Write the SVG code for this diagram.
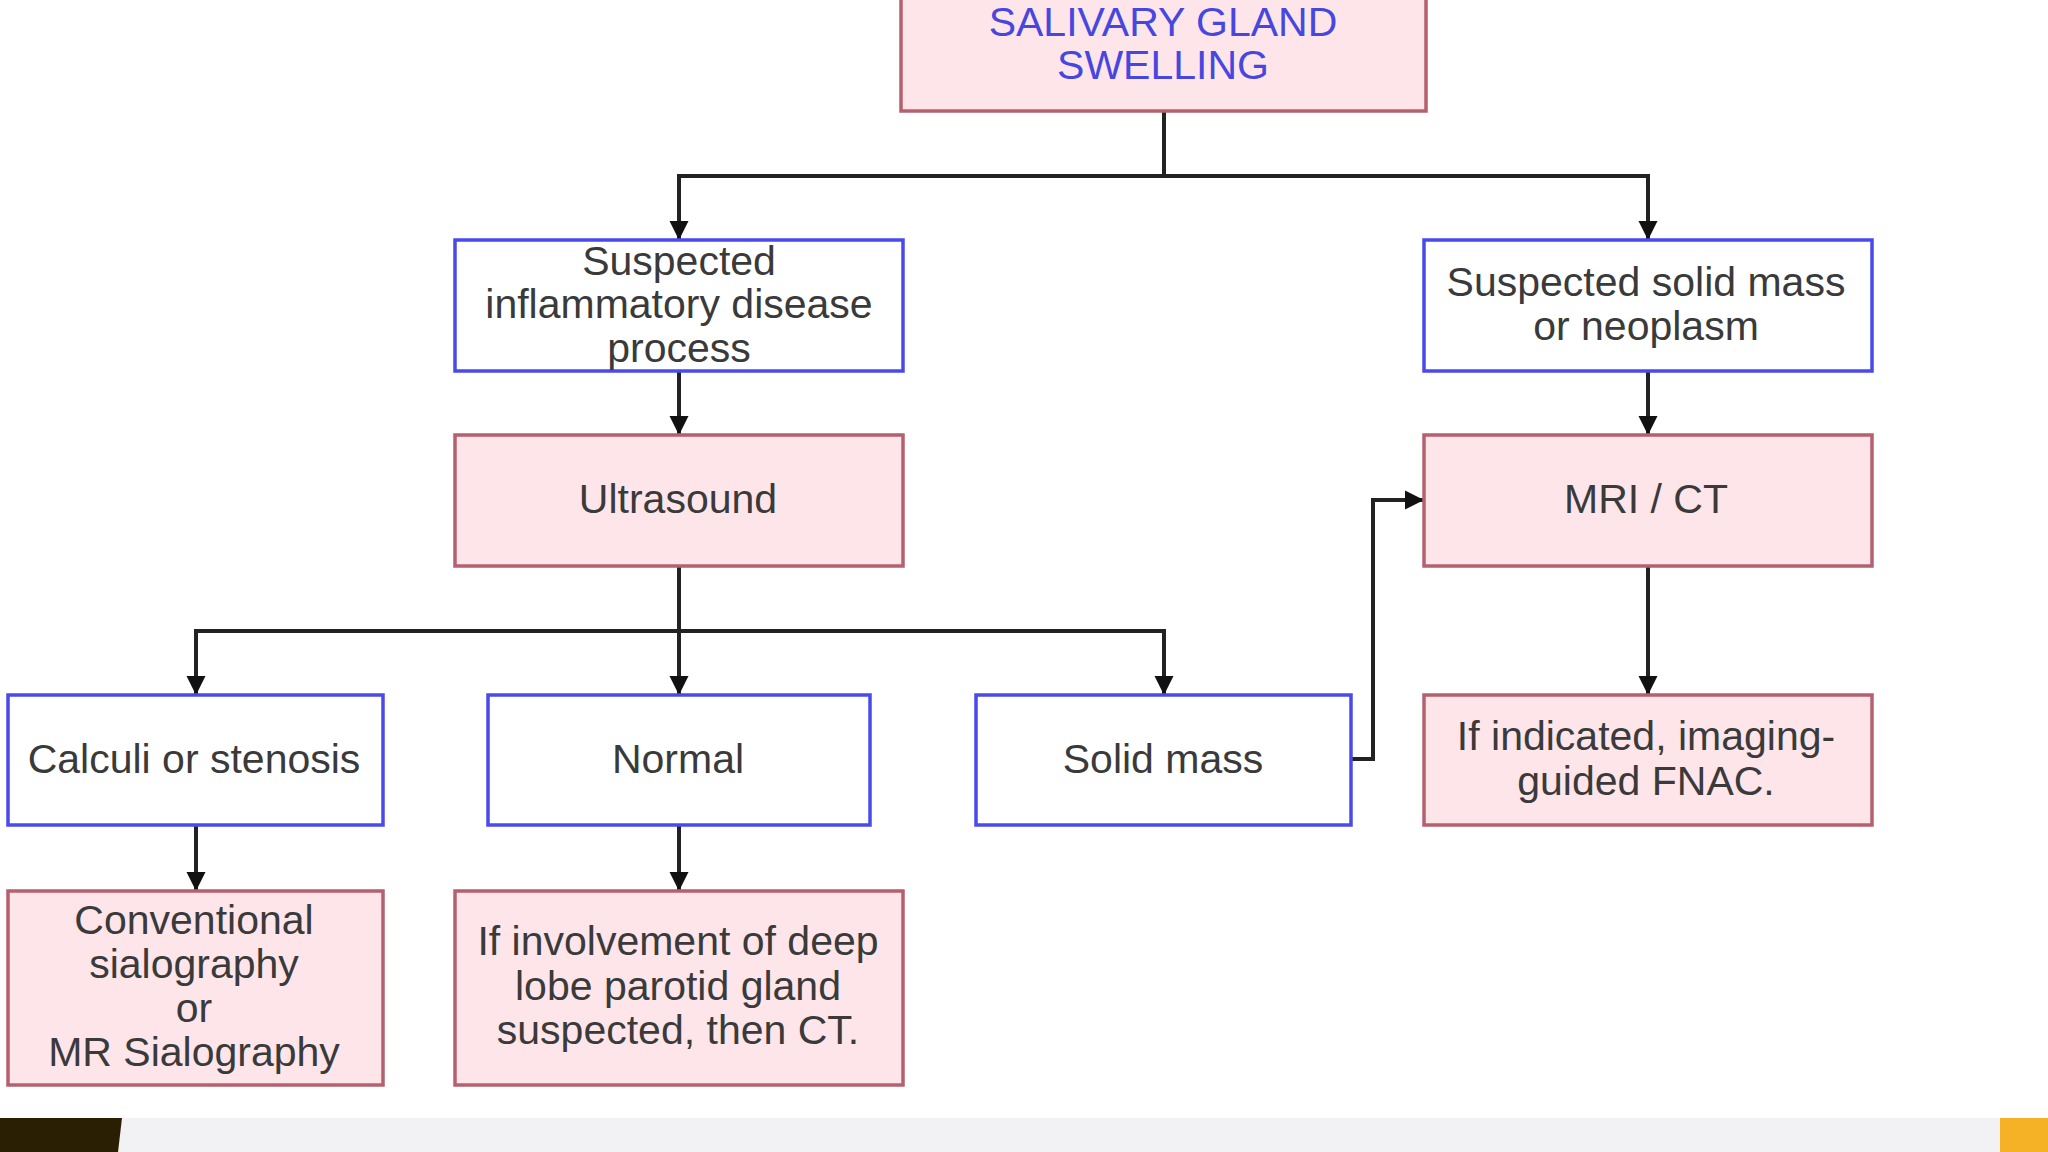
<svg xmlns="http://www.w3.org/2000/svg" width="2048" height="1152" viewBox="0 0 2048 1152">
<style>
.blue{fill:#ffffff;stroke:#4a4aea;stroke-width:3.5}
.pink{fill:#fde5ea;stroke:#b4606e;stroke-width:3.5}
.t{font-family:"Liberation Sans",Arial,sans-serif;font-size:41px;fill:#3a3a3a;text-anchor:middle}
.title{font-family:"Liberation Sans",Arial,sans-serif;font-size:41px;fill:#4747e0;text-anchor:middle}
.c{fill:none;stroke:#222;stroke-width:4}
</style>
<defs>
<marker id="ah" viewBox="0 0 10 10" refX="10" refY="5" markerWidth="19" markerHeight="20" markerUnits="userSpaceOnUse" orient="auto">
<path d="M0,0 L10,5 L0,10 z" fill="#111"/>
</marker>
</defs>
<rect width="2048" height="1152" fill="#ffffff"/>
<g id="connectors">
<path class="c" d="M1164,111 V176 H679 V240" marker-end="url(#ah)"/>
<path class="c" d="M1164,176 H1648 V240" marker-end="url(#ah)"/>
<path class="c" d="M679,371 V435" marker-end="url(#ah)"/>
<path class="c" d="M1648,371 V435" marker-end="url(#ah)"/>
<path class="c" d="M679,566 V631 H196 V695" marker-end="url(#ah)"/>
<path class="c" d="M679,631 V695" marker-end="url(#ah)"/>
<path class="c" d="M679,631 H1164 V695" marker-end="url(#ah)"/>
<path class="c" d="M1351,759 H1373 V500 H1424" marker-end="url(#ah)"/>
<path class="c" d="M1648,566 V695" marker-end="url(#ah)"/>
<path class="c" d="M196,825 V891" marker-end="url(#ah)"/>
<path class="c" d="M679,825 V891" marker-end="url(#ah)"/>
</g>
<g id="n-title">
<rect class="pink" x="901" y="-6" width="525" height="117"/>
<text class="title" x="1163" y="36">SALIVARY GLAND</text>
<text class="title" x="1163" y="79">SWELLING</text>
</g>
<g id="n-inflam">
<rect class="blue" x="455" y="240" width="448" height="131"/>
<text class="t" x="679" y="275">Suspected</text>
<text class="t" x="679" y="318">inflammatory disease</text>
<text class="t" x="679" y="362">process</text>
</g>
<g id="n-solidsusp">
<rect class="blue" x="1424" y="240" width="448" height="131"/>
<text class="t" x="1646" y="296">Suspected solid mass</text>
<text class="t" x="1646" y="340">or neoplasm</text>
</g>
<g id="n-us">
<rect class="pink" x="455" y="435" width="448" height="131"/>
<text class="t" x="678" y="513">Ultrasound</text>
</g>
<g id="n-mri">
<rect class="pink" x="1424" y="435" width="448" height="131"/>
<text class="t" x="1646" y="513">MRI / CT</text>
</g>
<g id="n-calculi">
<rect class="blue" x="8" y="695" width="375" height="130"/>
<text class="t" x="194" y="773">Calculi or stenosis</text>
</g>
<g id="n-normal">
<rect class="blue" x="488" y="695" width="382" height="130"/>
<text class="t" x="678" y="773">Normal</text>
</g>
<g id="n-solid">
<rect class="blue" x="976" y="695" width="375" height="130"/>
<text class="t" x="1163" y="773">Solid mass</text>
</g>
<g id="n-fnac">
<rect class="pink" x="1424" y="695" width="448" height="130"/>
<text class="t" x="1646" y="750">If indicated, imaging-</text>
<text class="t" x="1646" y="795">guided FNAC.</text>
</g>
<g id="n-sialo">
<rect class="pink" x="8" y="891" width="375" height="194"/>
<text class="t" x="194" y="934">Conventional</text>
<text class="t" x="194" y="978">sialography</text>
<text class="t" x="194" y="1022">or</text>
<text class="t" x="194" y="1066">MR Sialography</text>
</g>
<g id="n-deep">
<rect class="pink" x="455" y="891" width="448" height="194"/>
<text class="t" x="678" y="955">If involvement of deep</text>
<text class="t" x="678" y="1000">lobe parotid gland</text>
<text class="t" x="678" y="1044">suspected, then CT.</text>
</g>
<g id="footer">
<rect x="0" y="1118" width="2048" height="34" fill="#f2f1f4"/>
<path d="M0,1118 H122 L118,1152 H0 z" fill="#2a1f02"/>
<rect x="2000" y="1118" width="48" height="34" fill="#f5b226"/>
</g>
</svg>
